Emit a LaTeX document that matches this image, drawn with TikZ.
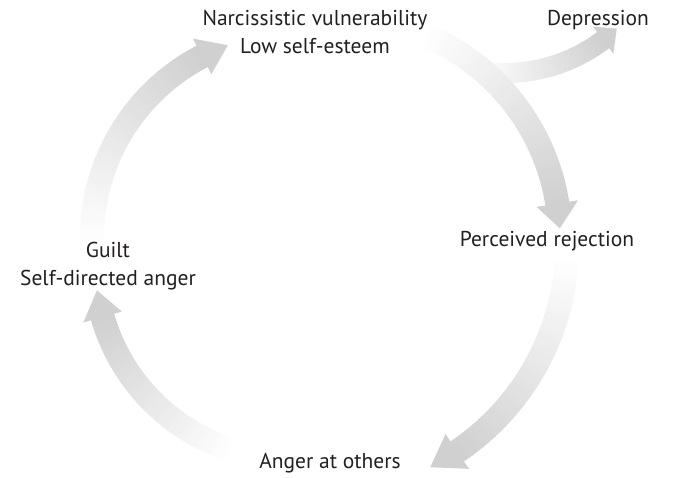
\documentclass[tikz,border=0pt]{standalone}
\usepackage{fontspec}
\setmainfont{PT Sans}
\usetikzlibrary{calc}
\definecolor{arr}{HTML}{D0D0D0}
\definecolor{txt}{HTML}{231F20}
% #1 cx, #2 cy, #3 R, #4 start angle, #5 shaft-end angle, #6 tip angle, #7 shaft width, #8 head half width
\newcommand{\gradarrow}[8]{%
  \pgfmathsetmacro{\rin}{#3-#7/2}%
  \pgfmathsetmacro{\rout}{#3+#7/2}%
  \foreach \i in {0,...,59}{%
    \pgfmathsetmacro{\ta}{#4+(#5-#4)*\i/60}%
    \pgfmathsetmacro{\tb}{#4+(#5-#4)*(\i+1.5)/60}%
    \pgfmathsetmacro{\pc}{100*\i/59}%
    \fill[arr!\pc!white] ($(#1,#2)+(\ta:\rin)$) arc[start angle=\ta,end angle=\tb,radius=\rin]
      -- ($(#1,#2)+(\tb:\rout)$) arc[start angle=\tb,end angle=\ta,radius=\rout] -- cycle;
  }%
  \pgfmathsetmacro{\hin}{#3-#8}%
  \pgfmathsetmacro{\hout}{#3+#8}%
  \fill[arr] ($(#1,#2)+(#5:\hin)$) -- ($(#1,#2)+(#6:#3)$) -- ($(#1,#2)+(#5:\hout)$) -- cycle;
}
\tikzset{lbl/.style={inner sep=0pt, text=txt, align=center, font=\fontsize{21.5}{28}\selectfont}}
\begin{document}
\begin{tikzpicture}[x=1pt,y=-1pt]
\useasboundingbox (0,0) rectangle (685,478);
% branch to Depression
\gradarrow{505}{-90}{163}{100}{53}{46.7}{20}{17}
% main arrows
\gradarrow{340}{238}{220}{-67.7}{-9}{-2.5}{24}{21}
\gradarrow{318}{245}{249}{2.8}{56}{63.2}{24}{21}
\gradarrow{291}{263}{196}{107.3}{164}{172}{24}{20}
\gradarrow{296}{237.5}{204}{177.9}{242.6}{250.5}{24}{20}
% labels
\node[lbl] (nv) at (315,32) {Narcissistic vulnerability\\Low self-esteem};
\node[lbl, anchor=base] (dep) at (598,26) {Depression};
\node[lbl, anchor=base] (rej) at (547,247) {Perceived rejection};
\node[lbl] (gui) at (108,266) {Guilt\\Self-directed anger};
\node[lbl, anchor=base] (ang) at (330,468) {Anger at others};
\end{tikzpicture}
\end{document}
